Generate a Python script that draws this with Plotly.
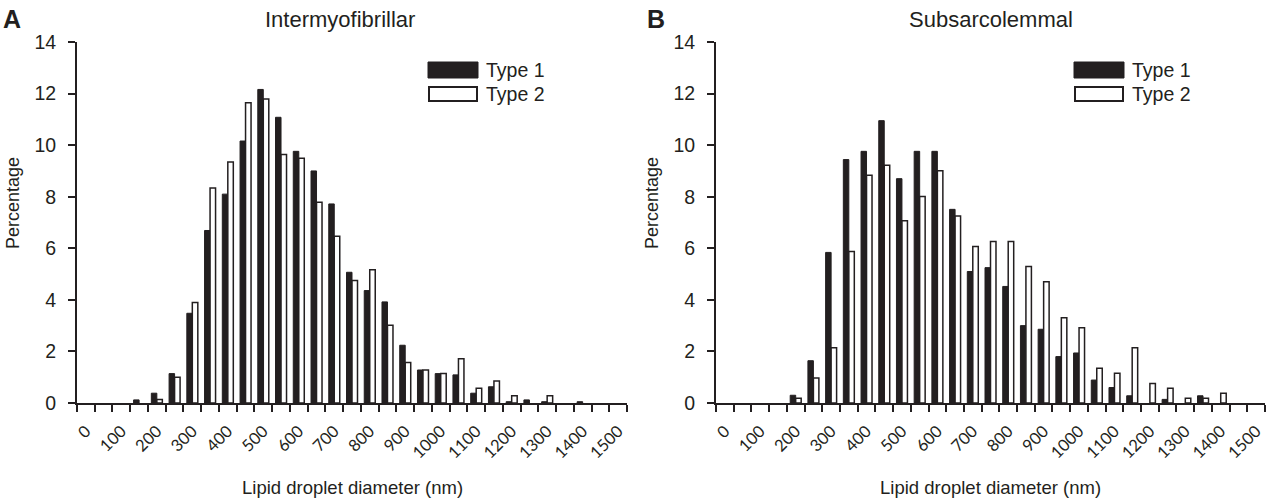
import plotly.graph_objects as go

W, H = 1266, 500

# Diameter categories (nm)
categories = list(range(0, 1501, 50))
tick_labels = [str(v) for v in range(0, 1501, 100)]

intermyo_type1 = [0, 0, 0, 0.12, 0.38, 1.14, 3.48, 6.69, 8.10, 10.16, 12.16, 11.08, 9.76, 9.00, 7.72,
                  5.07, 4.36, 3.92, 2.24, 1.28, 1.14, 1.09, 0.38, 0.63, 0.05, 0.12, 0.05, 0, 0.05, 0, 0]
intermyo_type2 = [0, 0, 0, 0, 0.14, 1.00, 3.90, 8.34, 9.35, 11.64, 11.79, 9.64, 9.49, 7.79, 6.47,
                  4.75, 5.17, 3.02, 1.57, 1.28, 1.14, 1.72, 0.57, 0.85, 0.28, 0, 0.28, 0, 0, 0, 0]
subsarc_type1 = [0, 0, 0, 0, 0.30, 1.64, 5.84, 9.44, 9.76, 10.95, 8.70, 9.76, 9.76, 7.51, 5.10,
                 5.25, 4.52, 3.00, 2.86, 1.80, 1.94, 0.89, 0.60, 0.28, 0, 0.14, 0, 0.28, 0, 0, 0]
subsarc_type2 = [0, 0, 0, 0, 0.18, 0.97, 2.14, 5.88, 8.83, 9.22, 7.07, 8.01, 9.01, 7.25, 6.07,
                 6.26, 6.26, 5.29, 4.70, 3.31, 2.92, 1.35, 1.15, 2.14, 0.76, 0.57, 0.18, 0.18, 0.38, 0, 0]

panel_titles = ["Intermyofibrillar", "Subsarcolemmal"]
panel_letters = ["A", "B"]
series_names = ["Type 1", "Type 2"]

INK = "#231f20"
TXT = "Liberation Sans, Arial, sans-serif"

def px(x):
    return x / W

def py(y):
    return 1 - y / H

def nz(vals):
    # empty bins are not drawn
    return [v if v != 0 else None for v in vals]

fig = go.Figure()

panels = [
    ("x", "y", intermyo_type1, intermyo_type2),
    ("x2", "y2", subsarc_type1, subsarc_type2),
]
for xa, ya, t1, t2 in panels:
    fig.add_trace(go.Bar(x=categories, y=nz(t1), name=series_names[0], xaxis=xa, yaxis=ya,
                         marker=dict(color=INK, line=dict(color=INK, width=1)), showlegend=False))
    fig.add_trace(go.Bar(x=categories, y=nz(t2), name=series_names[1], xaxis=xa, yaxis=ya,
                         marker=dict(color="white", line=dict(color=INK, width=1.5)), showlegend=False))

x_domains = [[px(77), px(627)], [px(716), px(1265)]]
y_domain = [py(403), py(42)]

def xaxis_cfg(dom, anchor):
    return dict(
        domain=dom, anchor=anchor, range=[-25, 1525], automargin=False,
        tickmode="array", tickvals=[int(t) for t in tick_labels], ticktext=tick_labels,
        ticks="", tickangle=-45,
        tickfont=dict(family="Lato, Open Sans, sans-serif", size=16.5, color=INK),
        ticklabelstandoff=10,
        minor=dict(tickmode="linear", tick0=-25, dtick=50, ticks="outside", ticklen=7,
                   tickwidth=2, tickcolor=INK, showgrid=False),
        showline=True, linewidth=2, linecolor=INK, showgrid=False, zeroline=False,
    )

def yaxis_cfg(anchor):
    return dict(
        domain=y_domain, anchor=anchor, range=[0, 14], tickmode="linear", tick0=0, dtick=2,
        automargin=False,
        ticks="outside", ticklen=7, tickwidth=2, tickcolor=INK,
        tickfont=dict(family=TXT, size=19.5, color=INK), ticklabelstandoff=8,
        showline=True, linewidth=2, linecolor=INK, showgrid=False, zeroline=False,
    )

fig.update_layout(
    width=W, height=H, margin=dict(l=0, r=0, t=0, b=0, pad=0),
    paper_bgcolor="white", plot_bgcolor="white",
    barmode="group", bargap=0.38, bargroupgap=0,
    xaxis=xaxis_cfg(x_domains[0], "y"),
    yaxis=yaxis_cfg("x"),
    xaxis2=xaxis_cfg(x_domains[1], "y2"),
    yaxis2=yaxis_cfg("x2"),
    showlegend=False,
)

annotations = []
shapes = []
title_x = [340.5, 990.5]
letter_x = [11.7, 656]
ylab_x = [12.5, 651.5]
xlab_x = [352, 990.5]
leg_x = [428, 1074]
for i in range(2):
    annotations.append(dict(text=panel_titles[i], x=px(title_x[i]), y=py(19), xref="paper", yref="paper",
                            showarrow=False, xanchor="center", yanchor="middle",
                            font=dict(family=TXT, size=22, color=INK)))
    annotations.append(dict(text="<b>%s</b>" % panel_letters[i], x=px(letter_x[i]), y=py(18.5),
                            xref="paper", yref="paper", showarrow=False, xanchor="center", yanchor="middle",
                            font=dict(family=TXT, size=25, color=INK)))
    annotations.append(dict(text="Percentage", x=px(ylab_x[i]), y=py(203.5), xref="paper", yref="paper",
                            showarrow=False, xanchor="center", yanchor="middle", textangle=-90,
                            font=dict(family=TXT, size=18, color=INK)))
    annotations.append(dict(text="Lipid droplet diameter (nm)", x=px(xlab_x[i]), y=py(487), xref="paper",
                            yref="paper", showarrow=False, xanchor="center", yanchor="middle",
                            font=dict(family=TXT, size=18.5, color=INK)))
    # legend
    lx = leg_x[i]
    shapes.append(dict(type="rect", xref="paper", yref="paper", x0=px(lx), x1=px(lx + 50),
                       y0=py(78), y1=py(62), fillcolor=INK, line=dict(color=INK, width=1)))
    shapes.append(dict(type="rect", xref="paper", yref="paper", x0=px(lx + 1), x1=px(lx + 49),
                       y0=py(101), y1=py(87), fillcolor="white", line=dict(color=INK, width=2)))
    annotations.append(dict(text=series_names[0], x=px(lx + 56), y=py(70), xref="paper", yref="paper",
                            showarrow=False, xanchor="left", yanchor="middle",
                            font=dict(family=TXT, size=19.5, color=INK)))
    annotations.append(dict(text=series_names[1], x=px(lx + 56), y=py(94), xref="paper", yref="paper",
                            showarrow=False, xanchor="left", yanchor="middle",
                            font=dict(family=TXT, size=19.5, color=INK)))

fig.update_layout(annotations=annotations, shapes=shapes)

fig.write_html("out.html")
